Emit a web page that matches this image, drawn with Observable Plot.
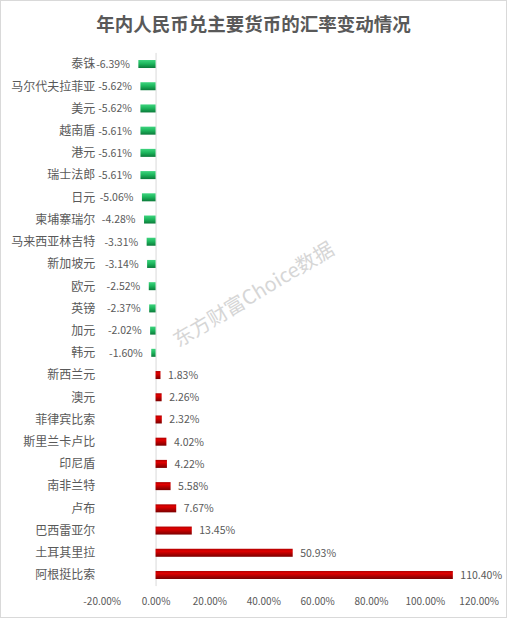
<!DOCTYPE html>
<html>
<head>
<meta charset="utf-8">
<script src="https://cdn.jsdelivr.net/npm/d3@7"></script>
<script src="https://cdn.jsdelivr.net/npm/@observablehq/plot@0.6"></script>
<style>
  html, body { margin: 0; padding: 0; background: #fff; }
  #wrap { width: 507px; height: 618px; box-sizing: border-box; border: 1px solid #d9d9d9; background: #fff; overflow: hidden; }
  #title { height: 40px; line-height: 44px; text-align: center; font-family: "Noto Sans CJK SC", sans-serif; font-weight: bold; font-size: 18.5px; color: #595959; }
  svg { display: block; }
</style>
</head>
<body>
<div id="wrap">
  <div id="title">年内人民币兑主要货币的汇率变动情况</div>
  <div id="chart"></div>
</div>
<script>
const categories = ["泰铢","马尔代夫拉菲亚","美元","越南盾","港元","瑞士法郎","日元","柬埔寨瑞尔","马来西亚林吉特","新加坡元","欧元","英镑","加元","韩元","新西兰元","澳元","菲律宾比索","斯里兰卡卢比","印尼盾","南非兰特","卢布","巴西雷亚尔","土耳其里拉","阿根挺比索"];
const values = [-6.39,-5.62,-5.62,-5.61,-5.61,-5.61,-5.06,-4.28,-3.31,-3.14,-2.52,-2.37,-2.02,-1.60,1.83,2.26,2.32,4.02,4.22,5.58,7.67,13.45,50.93,110.40];
const xTicks = [-20,0,20,40,60,80,100,120];
const watermark = "东方财富Choice数据";

const data = categories.map((c, i) => ({name: c, v: values[i]}));
const fmt = v => v.toFixed(2) + "%";
const font = "Noto Sans CJK SC, sans-serif";

const svg = Plot.plot({
  width: 505,
  height: 576,
  marginLeft: 100.7,
  marginRight: 27.3,
  marginTop: 11.9,
  marginBottom: 30.9,
  style: {fontFamily: font, color: "#595959", background: "#fff"},
  x: {domain: [-20, 120], ticks: xTicks, tickFormat: fmt, label: null},
  y: {domain: categories, padding: 0, round: false, label: null},
  color: {type: "identity"},
  marks: [
    Plot.text([watermark], {frameAnchor: "middle", dx: -37, dy: -25, rotate: -31, fontSize: 20, fill: "#d6d6d6", fontFamily: font}),
    Plot.ruleX([0], {stroke: "#d9d9d9", strokeWidth: 1}),
    Plot.barX(data, {x: "v", y: "name", insetTop: 7.1, insetBottom: 7.1,
      fill: d => d.v < 0 ? "url(#gGreen)" : "url(#gRed)"}),
    Plot.text(data.filter(d => d.v < 0), {x: "v", y: "name", text: d => fmt(d.v), textAnchor: "end", dx: -9, fontSize: 10.5, fill: "#595959"}),
    Plot.text(data.filter(d => d.v >= 0), {x: "v", y: "name", text: d => fmt(d.v), textAnchor: "start", dx: 7, fontSize: 10.5, fill: "#595959"}),
    Plot.axisY({tickSize: 0, tickPadding: 7, fontSize: 12, label: null}),
    Plot.axisX({ticks: xTicks, tickFormat: fmt, tickSize: 0, tickPadding: 11, fontSize: 10, label: null})
  ]
});

const defs = d3.select(svg).insert("defs", ":first-child");
const g1 = defs.append("linearGradient").attr("id", "gGreen").attr("x1", 0).attr("y1", 0).attr("x2", 0).attr("y2", 1);
g1.append("stop").attr("offset", "0%").attr("stop-color", "#3fd47f");
g1.append("stop").attr("offset", "45%").attr("stop-color", "#1eb85e");
g1.append("stop").attr("offset", "100%").attr("stop-color", "#0b7a3a");
const g2 = defs.append("linearGradient").attr("id", "gRed").attr("x1", 0).attr("y1", 0).attr("x2", 0).attr("y2", 1);
g2.append("stop").attr("offset", "0%").attr("stop-color", "#b00000");
g2.append("stop").attr("offset", "30%").attr("stop-color", "#e00000");
g2.append("stop").attr("offset", "100%").attr("stop-color", "#7a0000");

document.getElementById("chart").appendChild(svg);
</script>
</body>
</html>
